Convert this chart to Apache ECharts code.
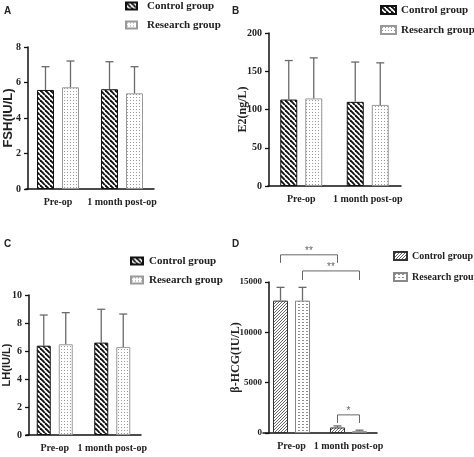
<!DOCTYPE html>
<html>
<head>
<meta charset="utf-8">
<script src="https://cdn.jsdelivr.net/npm/echarts@6/dist/echarts.min.js"></script>
<style>
html, body { margin: 0; padding: 0; background: #fff; }
.p { position: absolute; }
</style>
</head>
<body>
<div id="pA" class="p" style="left:0;top:0;width:230px;height:228px"></div>
<div id="pB" class="p" style="left:230px;top:0;width:244px;height:228px"></div>
<div id="pC" class="p" style="left:0;top:228px;width:230px;height:229px"></div>
<div id="pD" class="p" style="left:230px;top:228px;width:244px;height:229px"></div>
<script>
// data (mean + SD)
var categories = ['Pre-op', '1 month post-op'];
var groups = ['Control group', 'Research group'];

var fshControl = [5.58, 5.62];
var fshControlSd = [1.31, 1.55];
var fshResearch = [5.73, 5.39];
var fshResearchSd = [1.48, 1.5];

var e2Control = [113, 110];
var e2ControlSd = [51, 52];
var e2Research = [114.5, 106];
var e2ResearchSd = [53, 55];

var lhControl = [6.38, 6.6];
var lhControlSd = [2.19, 2.38];
var lhResearch = [6.48, 6.29];
var lhResearchSd = [2.26, 2.35];

var hcgControl = [13150, 550];
var hcgControlSd = [1320, 150];
var hcgResearch = [13150, 180];
var hcgResearchSd = [1320, 100];

// axis ticks
var fshTicks = [0, 2, 4, 6, 8];
var e2Ticks = [0, 50, 100, 150, 200];
var lhTicks = [0, 2, 4, 6, 8, 10];
var hcgTicks = [0, 5000, 10000, 15000];

// significance brackets in panel D: [startCat, startGroup, endCat, endGroup, top, legEnd]
var hcgBrackets = [
  [0, 0, 1, 0, 17700, 16900],
  [0, 1, 1, 1, 16100, 15200],
  [1, 0, 1, 1, 1800, 1000]
];
var hcgBracketLabels = ['**', '**', '*'];

// fill patterns
function tile(w, h, draw) {
  var c = document.createElement('canvas');
  c.width = w; c.height = h;
  var g = c.getContext('2d');
  g.fillStyle = '#fff';
  g.fillRect(0, 0, w, h);
  draw(g);
  return { image: c, repeat: 'repeat' };
}
function stripes(size, lw, color, dir) {
  return tile(size, size, function (g) {
    g.strokeStyle = color;
    g.lineWidth = lw;
    for (var k = -1; k <= 1; k++) {
      g.beginPath();
      if (dir > 0) { g.moveTo(k * size, 0); g.lineTo(k * size + size, size); }
      else { g.moveTo(k * size + size, 0); g.lineTo(k * size, size); }
      g.stroke();
    }
  });
}
var boldStripes = stripes(5, 1.9, '#111', 1);
var dots = tile(3, 3, function (g) { g.fillStyle = '#9a9a9a'; g.fillRect(1, 1, 1, 1); });
var fineStripes = stripes(3, 0.9, '#555', -1);
var dashRows = tile(4, 3, function (g) { g.fillStyle = '#8a8a8a'; g.fillRect(0, 1, 2, 1); });

var serif = 'Liberation Serif';
var sans = 'Liberation Sans';

function errorSeries(p, gi, means, sds) {
  var off = (gi === 0 ? -1 : 1) * (p.barW + p.gap) / 2;
  var data = means.map(function (m, i) { return [i, m, sds[i]]; });
  return {
    type: 'custom',
    silent: true,
    z: 3,
    encode: { x: 0, y: 1 },
    data: data,
    renderItem: function (params, api) {
      var base = api.coord([api.value(0), api.value(1)]);
      var top = api.coord([api.value(0), api.value(1) + api.value(2)]);
      var x = base[0] + off;
      return {
        type: 'group',
        children: [
          { type: 'line', shape: { x1: x, y1: base[1], x2: x, y2: top[1] }, style: { stroke: '#6a6a6a', lineWidth: 1.3 } },
          { type: 'line', shape: { x1: x - 4, y1: top[1], x2: x + 4, y2: top[1] }, style: { stroke: '#6a6a6a', lineWidth: 1.3 } }
        ]
      };
    }
  };
}

function bracketSeries(p, rows, labels) {
  var half = (p.barW + p.gap) / 2;
  return {
    type: 'custom',
    silent: true,
    clip: false,
    z: 4,
    encode: { x: 0, y: 4 },
    data: rows,
    renderItem: function (params, api) {
      var a = api.coord([api.value(0), api.value(4)]);
      var b = api.coord([api.value(2), api.value(4)]);
      var leg = api.coord([0, api.value(5)])[1];
      var x1 = a[0] + (api.value(1) === 0 ? -half : half);
      var x2 = b[0] + (api.value(3) === 0 ? -half : half);
      return {
        type: 'group',
        children: [
          { type: 'polyline', shape: { points: [[x1, leg], [x1, a[1]], [x2, a[1]], [x2, leg]] }, style: { stroke: '#666', lineWidth: 1, fill: null } },
          { type: 'text', style: { text: labels[params.dataIndex], x: (x1 + x2) / 2, y: a[1] + 1, align: 'center', verticalAlign: 'bottom', fill: '#666', font: '10px ' + sans } }
        ]
      };
    }
  };
}

function panel(p) {
  var series = [
    {
      name: groups[0], type: 'bar', data: p.control, barWidth: p.barW,
      barGap: (p.gap / p.barW * 100) + '%',
      itemStyle: { color: p.fill0, borderColor: p.border0, borderWidth: 1 }
    },
    {
      name: groups[1], type: 'bar', data: p.research, barWidth: p.barW,
      itemStyle: { color: p.fill1, borderColor: p.border1, borderWidth: 1 }
    },
    errorSeries(p, 0, p.control, p.controlSd),
    errorSeries(p, 1, p.research, p.researchSd)
  ];
  if (p.brackets) series.push(bracketSeries(p, p.brackets, p.bracketLabels));
  var ticks = p.ticks;
  return {
    animation: false,
    title: {
      text: p.letter, left: p.letterX, top: p.letterY, padding: 0,
      textStyle: { fontFamily: sans, fontWeight: 'bold', fontSize: 10, color: '#222' }
    },
    legend: {
      data: groups, orient: 'vertical', left: p.legLeft, top: p.legTop, padding: 0,
      itemWidth: p.iconW, itemHeight: p.iconH, itemGap: p.legGap, icon: 'rect',
      textStyle: { fontFamily: serif, fontWeight: 'bold', fontSize: p.legSize, color: '#222', lineHeight: 12, padding: p.legPad }
    },
    grid: { left: p.left, top: p.top, width: p.width, height: p.height, containLabel: false, outerBoundsMode: 'none' },
    xAxis: {
      type: 'category', data: categories,
      axisLine: { lineStyle: { color: '#111', width: 1.5 } },
      axisTick: { alignWithLabel: true, length: 4, lineStyle: { color: '#111', width: 1.3 } },
      axisLabel: { margin: 8, fontFamily: serif, fontWeight: 'bold', fontSize: 10, color: '#222', interval: 0 }
    },
    yAxis: {
      type: 'value', min: ticks[0], max: ticks[ticks.length - 1], interval: ticks[1] - ticks[0],
      offset: p.yOffset,
      name: p.yName, nameLocation: 'middle', nameGap: p.nameGap, nameMoveOverlap: false,
      nameTextStyle: { fontFamily: p.nameFont, fontWeight: 'bold', fontSize: p.nameSize, color: '#222' },
      axisLine: { show: true, lineStyle: { color: '#111', width: 1.5 } },
      axisTick: { show: true, length: 4, lineStyle: { color: '#111', width: 1.3 } },
      splitLine: { show: false },
      axisLabel: {
        margin: 7, fontFamily: serif, fontWeight: 'bold', fontSize: p.tickSize, color: '#222',
        formatter: function (v) { return String(v); }
      }
    },
    series: series
  };
}

var panels = {
  pA: {
    letter: 'A', letterX: 4, letterY: 6,
    control: fshControl, controlSd: fshControlSd, research: fshResearch, researchSd: fshResearchSd,
    ticks: fshTicks, yName: 'FSH(IU/L)', nameFont: sans, nameSize: 13, nameGap: 13, tickSize: 10,
    left: 26, top: 47, width: 128, height: 142, yOffset: -2, barW: 17, gap: 8,
    fill0: boldStripes, border0: '#111', fill1: dots, border1: '#999',
    legLeft: 125, legTop: 0, iconW: 11, iconH: 7, legGap: 7, legPad: [0, 0, 0, 5], legSize: 11
  },
  pB: {
    letter: 'B', letterX: 2, letterY: 6,
    control: e2Control, controlSd: e2ControlSd, research: e2Research, researchSd: e2ResearchSd,
    ticks: e2Ticks, yName: 'E2(ng/L)', nameFont: serif, nameSize: 12, nameGap: 20, tickSize: 10,
    left: 38, top: 33, width: 133, height: 153, yOffset: -1, barW: 17, gap: 8,
    fill0: boldStripes, border0: '#111', fill1: dots, border1: '#999',
    legLeft: 150, legTop: 4, iconW: 15, iconH: 8, legGap: 8, legPad: 0, legSize: 11
  },
  pC: {
    letter: 'C', letterX: 4, letterY: 11,
    control: lhControl, controlSd: lhControlSd, research: lhResearch, researchSd: lhResearchSd,
    ticks: lhTicks, yName: 'LH(IU/L)', nameFont: sans, nameSize: 11, nameGap: 17, tickSize: 10,
    left: 26, top: 67, width: 115, height: 140, yOffset: -3, barW: 14, gap: 8,
    fill0: boldStripes, border0: '#111', fill1: dots, border1: '#999',
    legLeft: 130, legTop: 27, iconW: 12, iconH: 7, legGap: 7, legPad: [0, 0, 0, 1], legSize: 11
  },
  pD: {
    letter: 'D', letterX: 2, letterY: 11,
    control: hcgControl, controlSd: hcgControlSd, research: hcgResearch, researchSd: hcgResearchSd,
    ticks: hcgTicks, yName: 'β-HCG(IU/L)', nameFont: serif, nameSize: 12, nameGap: 27, tickSize: 9,
    left: 33, top: 54, width: 114, height: 151, yOffset: -6, barW: 15, gap: 7,
    fill0: fineStripes, border0: '#333', fill1: dashRows, border1: '#888',
    legLeft: 163, legTop: 22, iconW: 13, iconH: 8, legGap: 9, legPad: [0, 0, 0, 0], legSize: 10,
    brackets: hcgBrackets, bracketLabels: hcgBracketLabels
  }
};

Object.keys(panels).forEach(function (id) {
  var chart = echarts.init(document.getElementById(id), null, { renderer: 'canvas' });
  chart.setOption(panel(panels[id]));
});
</script>
</body>
</html>
